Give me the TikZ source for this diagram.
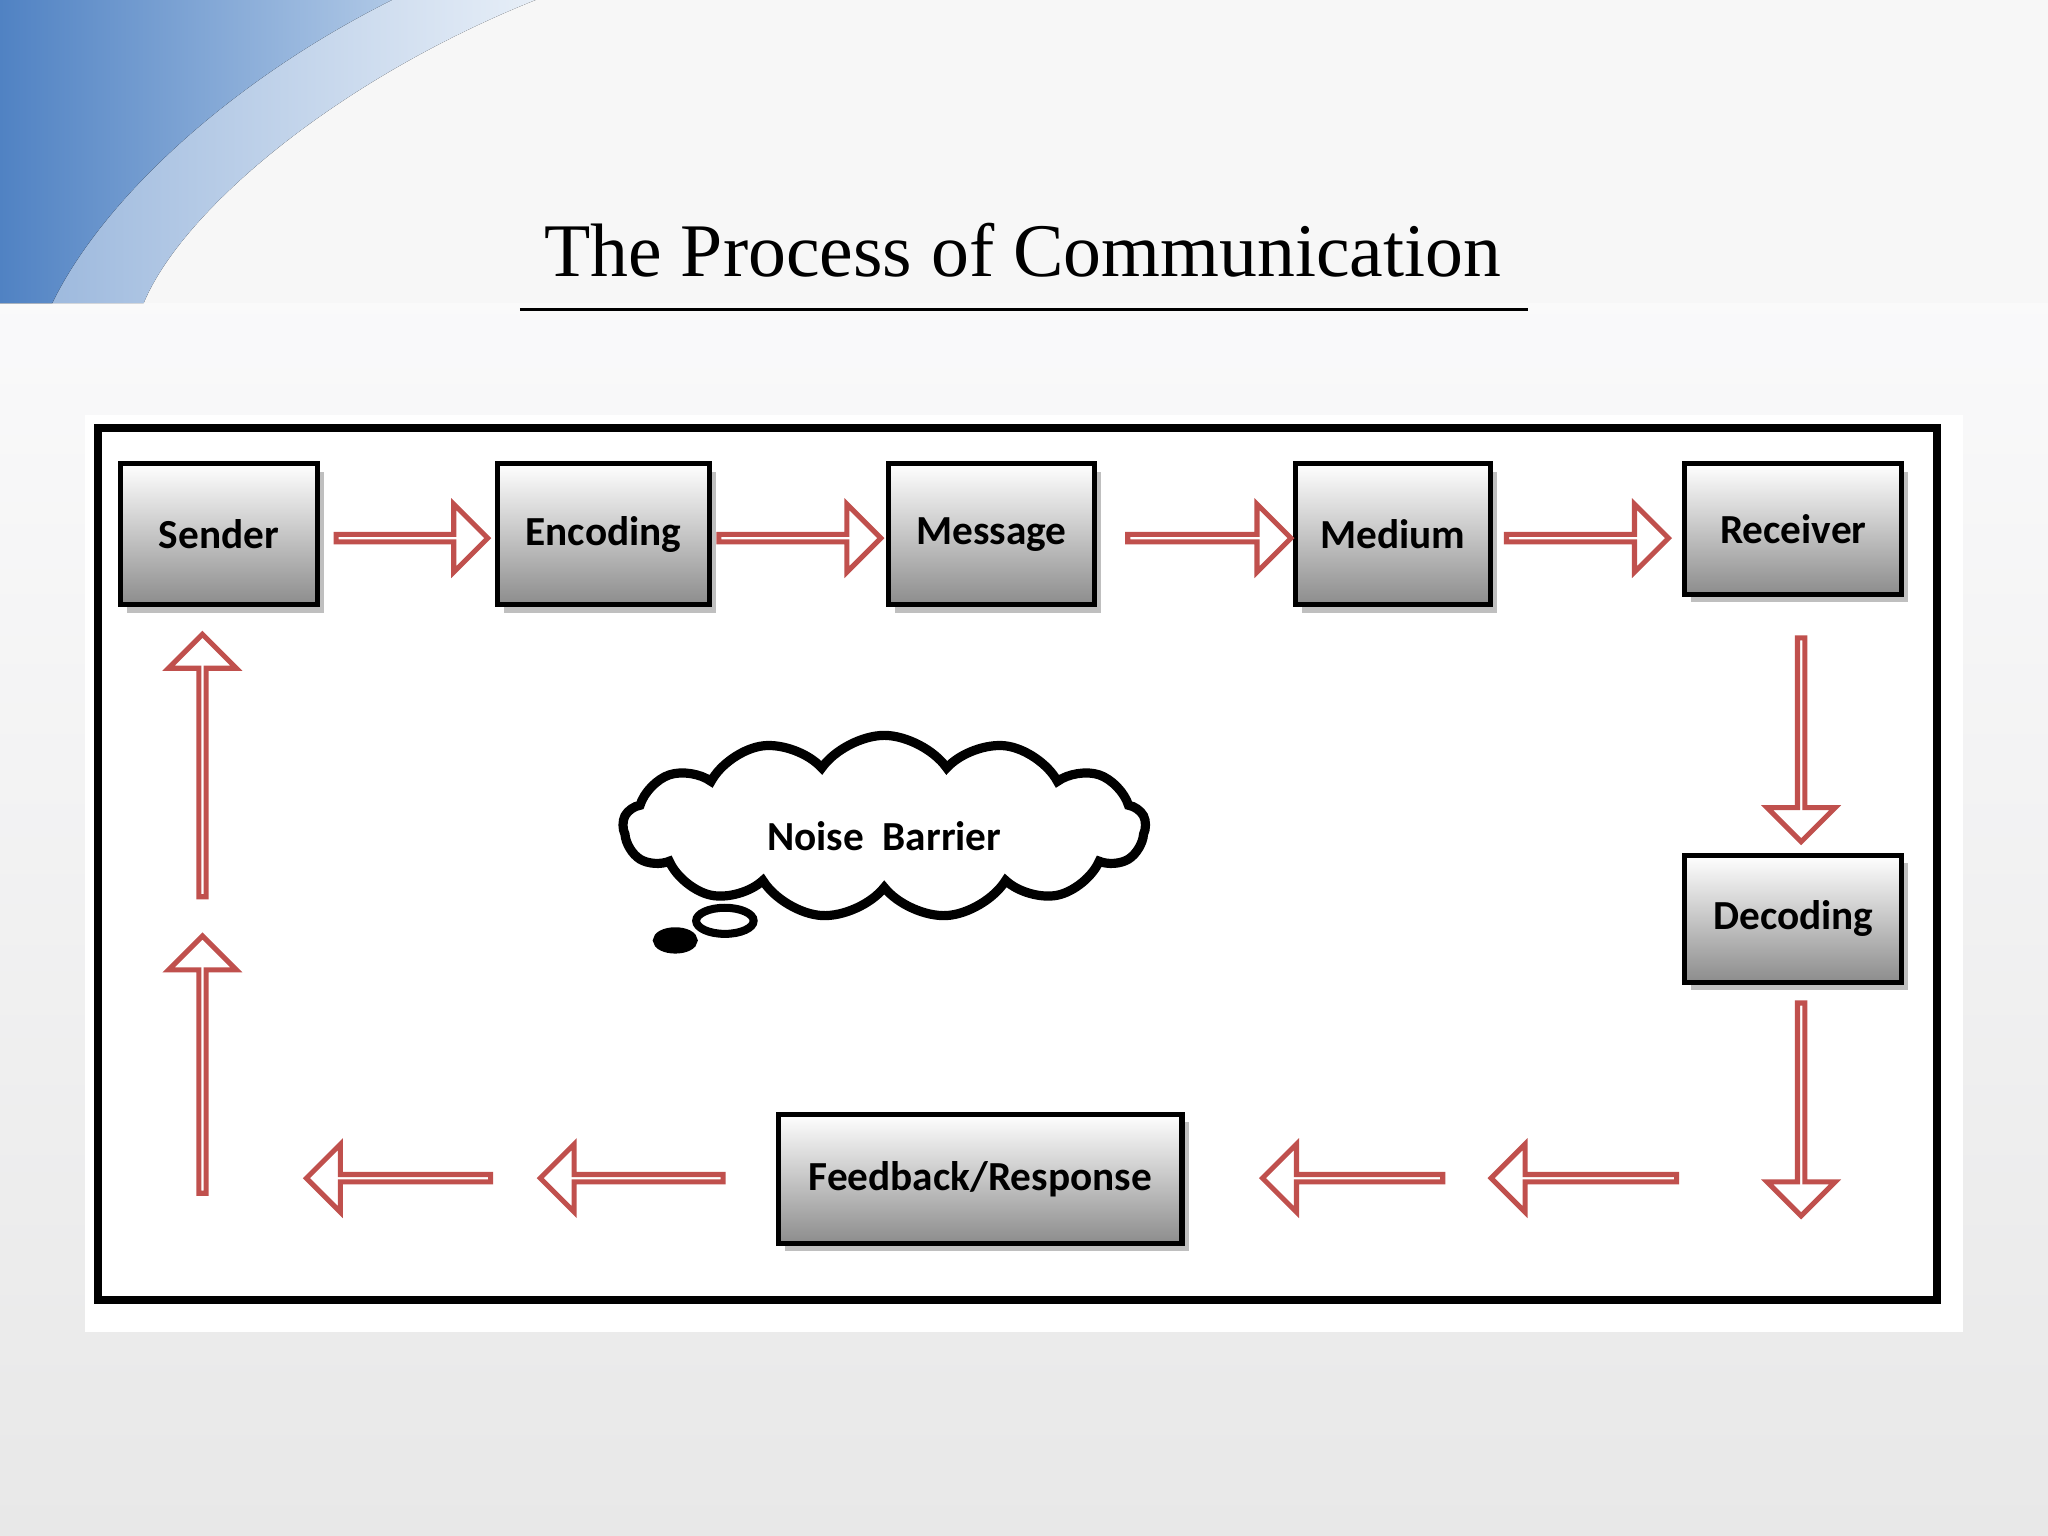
\documentclass[tikz,border=0pt]{standalone}
\usepackage{fontspec}
\setsansfont{Carlito}
\setmainfont{Liberation Serif}
\usetikzlibrary{shapes.arrows,shapes.symbols,shapes.geometric}
\definecolor{arr}{RGB}{192,80,77}
\definecolor{sw1}{RGB}{80,130,195}
\definecolor{sw2}{RGB}{175,200,230}
\tikzset{
 box/.style={draw=black,line width=2.2pt,top color=white,bottom color=black!45,
   font=\sffamily\bfseries\fontsize{18}{20}\selectfont,
   inner sep=0pt},
 shad/.style={fill=black!25,draw=none},
 blk/.style={single arrow,draw=arr,fill=white,line width=2.2pt,
   single arrow head extend=0.32cm,minimum width=1.04cm,inner sep=0pt,single arrow tip angle=90}
}
\begin{document}
\begin{tikzpicture}[x=0.02cm,y=-0.02cm]
\useasboundingbox (0,0) rectangle (1568,1176);
\fill[top color=white!92!blue!5,bottom color=black!9] (0,0) rectangle (1568,1176);
\fill[black!3] (0,0) rectangle (1568,232);
\fill[left color=sw1!60!white,right color=sw2!30!white] (0,0) -- (410,0) .. controls (260,60) and (140,160) .. (110,232) -- (0,232) -- cycle;
\fill[left color=sw1,right color=sw2] (0,0) -- (300,0) .. controls (180,60) and (80,150) .. (40,232) -- (0,232) -- cycle;
\node[font=\fontsize{33}{36}\selectfont,anchor=base] (title) at (783,212) {The Process of Communication};
\draw[line width=1.3pt] (398,237) -- (1170,237);
\fill[white] (65,318) rectangle (1503,1020);
\draw[line width=3.5pt] (75,328) rectangle (1483,995);
% shadows
\foreach \a/\b/\c/\d in {92/355/243/463,381/355/543/463,680/355/838/463,992/355/1141/463,1290/355/1456/455,1290/655/1456/752,596/853/905/952}
  \fill[shad] (\a+5,\b+6) rectangle (\c+5,\d+6);
\node[box,minimum width=3.02cm,minimum height=2.16cm] (sender) at (167.5,409) {Sender};
\node[box,minimum width=3.24cm,minimum height=2.16cm] (enc) at (462,409) {Encoding};
\node[box,minimum width=3.16cm,minimum height=2.16cm] (msg) at (759,409) {Message};
\node[box,minimum width=2.98cm,minimum height=2.16cm] (med) at (1066.5,409) {Medium};
\node[box,minimum width=3.32cm,minimum height=2cm] (rec) at (1373,405) {Receiver};
\node[box,minimum width=3.32cm,minimum height=1.94cm] (dec) at (1373,703.5) {Decoding};
\node[box,minimum width=6.18cm,minimum height=1.98cm] (fb) at (750.5,902.5) {Feedback/Response};
% arrows
\node[blk,minimum height=2.32cm] (a1) at (314,412) {};
\node[blk,minimum height=2.48cm] (a2) at (611,412) {};
\node[blk,minimum height=2.5cm] (a3) at (924.5,412) {};
\node[blk,minimum height=2.48cm] (a4) at (1214,412) {};
\node[blk,minimum height=3.12cm,rotate=-90] (a5) at (1379,565) {};
\node[blk,minimum height=3.26cm,rotate=-90] (a6) at (1379,848) {};
\node[blk,minimum height=2.84cm,rotate=180] (a7) at (1214,902) {};
\node[blk,minimum height=2.76cm,rotate=180] (a8) at (1037,902) {};
\node[blk,minimum height=2.8cm,rotate=180] (a9) at (485,902) {};
\node[blk,minimum height=2.82cm,rotate=180] (a10) at (306.5,902) {};
\node[blk,minimum height=4.02cm,rotate=90] (a11) at (155,587.5) {};
\node[blk,minimum height=3.94cm,rotate=90] (a12) at (155,816.5) {};
% cloud
\node[cloud,draw,line width=4pt,cloud puffs=13,cloud puff arc=110,aspect=2.8,minimum width=8cm,minimum height=2.8cm,fill=white] (cloud) at (677,633) {};
\node[font=\sffamily\bfseries\fontsize{18}{20}\selectfont] (noise) at (677,640) {Noise\ \ Barrier};
\draw[line width=3.5pt] (555,705) ellipse (22 and 10);
\draw[line width=3.5pt,fill=black] (517,720) ellipse (14 and 7);
\end{tikzpicture}
\end{document}
